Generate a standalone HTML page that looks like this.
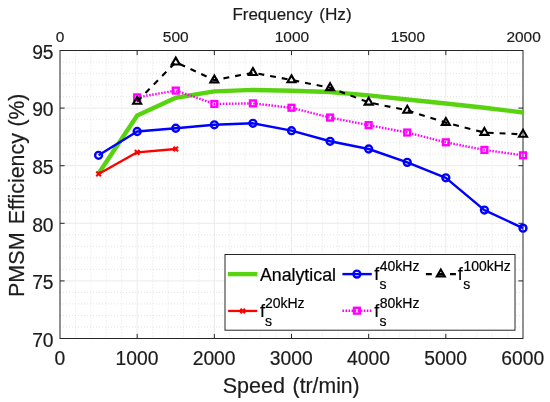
<!DOCTYPE html><html><head><meta charset="utf-8"><title>PMSM Efficiency</title>
<style>html,body{margin:0;padding:0;background:#fff}svg{display:block}text{font-family:"Liberation Sans",sans-serif;fill:#1c1c1c;stroke:#1c1c1c;stroke-width:0.2px}.lg text{fill:#000;stroke:#000}</style></head><body>
<svg width="550" height="402" viewBox="0 0 550 402">
<rect width="550" height="402" fill="#fff"/>
<g stroke="#d8d8d8" stroke-width="0.7" stroke-dasharray="1 2" fill="none">
<path d="M75.43 50.5 V338.5"/>
<path d="M90.87 50.5 V338.5"/>
<path d="M106.30 50.5 V338.5"/>
<path d="M121.73 50.5 V338.5"/>
<path d="M152.60 50.5 V338.5"/>
<path d="M168.03 50.5 V338.5"/>
<path d="M183.47 50.5 V338.5"/>
<path d="M198.90 50.5 V338.5"/>
<path d="M229.77 50.5 V338.5"/>
<path d="M245.20 50.5 V338.5"/>
<path d="M260.63 50.5 V338.5"/>
<path d="M276.07 50.5 V338.5"/>
<path d="M306.93 50.5 V338.5"/>
<path d="M322.37 50.5 V338.5"/>
<path d="M337.80 50.5 V338.5"/>
<path d="M353.23 50.5 V338.5"/>
<path d="M384.10 50.5 V338.5"/>
<path d="M399.53 50.5 V338.5"/>
<path d="M414.97 50.5 V338.5"/>
<path d="M430.40 50.5 V338.5"/>
<path d="M461.27 50.5 V338.5"/>
<path d="M476.70 50.5 V338.5"/>
<path d="M492.13 50.5 V338.5"/>
<path d="M507.57 50.5 V338.5"/>
<path d="M60.0 326.98 H523.0"/>
<path d="M60.0 315.46 H523.0"/>
<path d="M60.0 303.94 H523.0"/>
<path d="M60.0 292.42 H523.0"/>
<path d="M60.0 269.38 H523.0"/>
<path d="M60.0 257.86 H523.0"/>
<path d="M60.0 246.34 H523.0"/>
<path d="M60.0 234.82 H523.0"/>
<path d="M60.0 211.78 H523.0"/>
<path d="M60.0 200.26 H523.0"/>
<path d="M60.0 188.74 H523.0"/>
<path d="M60.0 177.22 H523.0"/>
<path d="M60.0 154.18 H523.0"/>
<path d="M60.0 142.66 H523.0"/>
<path d="M60.0 131.14 H523.0"/>
<path d="M60.0 119.62 H523.0"/>
<path d="M60.0 96.58 H523.0"/>
<path d="M60.0 85.06 H523.0"/>
<path d="M60.0 73.54 H523.0"/>
<path d="M60.0 62.02 H523.0"/>
</g>
<g stroke="#ebebeb" stroke-width="1" fill="none">
<path d="M137.17 50.5 V338.5"/>
<path d="M214.33 50.5 V338.5"/>
<path d="M291.50 50.5 V338.5"/>
<path d="M368.67 50.5 V338.5"/>
<path d="M445.83 50.5 V338.5"/>
<path d="M60.0 280.90 H523.0"/>
<path d="M60.0 223.30 H523.0"/>
<path d="M60.0 165.70 H523.0"/>
<path d="M60.0 108.10 H523.0"/>
</g>
<g stroke="#262626" stroke-width="1" fill="none">
<rect x="60.0" y="50.5" width="463.0" height="288.00"/>
<path d="M137.17 338.5 v-4.6 M137.17 50.5 v4.6"/>
<path d="M214.33 338.5 v-4.6 M214.33 50.5 v4.6"/>
<path d="M291.50 338.5 v-4.6 M291.50 50.5 v4.6"/>
<path d="M368.67 338.5 v-4.6 M368.67 50.5 v4.6"/>
<path d="M445.83 338.5 v-4.6 M445.83 50.5 v4.6"/>
<path d="M60.0 280.90 h4.6 M523.0 280.90 h-4.6"/>
<path d="M60.0 223.30 h4.6 M523.0 223.30 h-4.6"/>
<path d="M60.0 165.70 h4.6 M523.0 165.70 h-4.6"/>
<path d="M60.0 108.10 h4.6 M523.0 108.10 h-4.6"/>
</g>
<polyline points="98.58,173.42 137.17,115.47 175.75,97.73 214.33,91.40 252.92,89.90 291.50,90.82 330.08,91.97 368.67,95.43 407.25,99.46 445.83,103.49 484.42,107.75 523.00,112.48" fill="none" stroke="#58d30f" stroke-width="4.4" stroke-linejoin="round"/>
<g fill="none" stroke="#ff0000" stroke-width="2.3"><polyline points="98.58,173.88 137.17,152.34 175.75,149.00" stroke-linejoin="round"/>
<path stroke-width="2.1" d="M96.28 171.58 L100.88 176.18 M96.28 176.18 L100.88 171.58"/>
<path stroke-width="2.1" d="M134.87 150.04 L139.47 154.64 M134.87 154.64 L139.47 150.04"/>
<path stroke-width="2.1" d="M173.45 146.70 L178.05 151.30 M173.45 151.30 L178.05 146.70"/>
</g>
<g fill="none" stroke="#0000ff" stroke-width="2.4"><polyline points="98.58,155.33 137.17,131.49 175.75,128.26 214.33,124.80 252.92,123.31 291.50,130.68 330.08,141.28 368.67,149.00 407.25,162.36 445.83,177.80 484.42,210.05 523.00,228.14" stroke-linejoin="round"/>
<circle cx="98.58" cy="155.33" r="3.45"/>
<circle cx="137.17" cy="131.49" r="3.45"/>
<circle cx="175.75" cy="128.26" r="3.45"/>
<circle cx="214.33" cy="124.80" r="3.45"/>
<circle cx="252.92" cy="123.31" r="3.45"/>
<circle cx="291.50" cy="130.68" r="3.45"/>
<circle cx="330.08" cy="141.28" r="3.45"/>
<circle cx="368.67" cy="149.00" r="3.45"/>
<circle cx="407.25" cy="162.36" r="3.45"/>
<circle cx="445.83" cy="177.80" r="3.45"/>
<circle cx="484.42" cy="210.05" r="3.45"/>
<circle cx="523.00" cy="228.14" r="3.45"/>
</g>
<g fill="none" stroke="#ff00ff" stroke-width="2.4"><polyline points="137.17,97.39 175.75,90.59 214.33,103.95 252.92,103.38 291.50,107.75 330.08,117.55 368.67,125.15 407.25,132.52 445.83,142.31 484.42,149.92 523.00,155.33" stroke-dasharray="1.55 1.5"/>
<rect x="134.27" y="94.49" width="5.8" height="5.8"/>
<rect x="172.85" y="87.69" width="5.8" height="5.8"/>
<rect x="211.43" y="101.05" width="5.8" height="5.8"/>
<rect x="250.02" y="100.48" width="5.8" height="5.8"/>
<rect x="288.60" y="104.85" width="5.8" height="5.8"/>
<rect x="327.18" y="114.65" width="5.8" height="5.8"/>
<rect x="365.77" y="122.25" width="5.8" height="5.8"/>
<rect x="404.35" y="129.62" width="5.8" height="5.8"/>
<rect x="442.93" y="139.41" width="5.8" height="5.8"/>
<rect x="481.52" y="147.02" width="5.8" height="5.8"/>
<rect x="520.10" y="152.43" width="5.8" height="5.8"/>
</g>
<g fill="none" stroke="#000" stroke-width="2.1"><polyline points="137.17,101.42 175.75,62.25 214.33,80.11 252.92,72.73 291.50,79.99 330.08,87.82 368.67,102.34 407.25,110.40 445.83,122.62 484.42,132.52 523.00,134.37" stroke-dasharray="5.9 5.965"/>
<path d="M137.17 96.80 L141.17 103.73 L133.17 103.73 Z"/>
<path d="M175.75 57.63 L179.75 64.56 L171.75 64.56 Z"/>
<path d="M214.33 75.49 L218.33 82.42 L210.33 82.42 Z"/>
<path d="M252.92 68.11 L256.92 75.04 L248.92 75.04 Z"/>
<path d="M291.50 75.37 L295.50 82.30 L287.50 82.30 Z"/>
<path d="M330.08 83.21 L334.08 90.13 L326.08 90.13 Z"/>
<path d="M368.67 97.72 L372.67 104.65 L364.67 104.65 Z"/>
<path d="M407.25 105.79 L411.25 112.71 L403.25 112.71 Z"/>
<path d="M445.83 118.00 L449.83 124.92 L441.83 124.92 Z"/>
<path d="M484.42 127.90 L488.42 134.83 L480.42 134.83 Z"/>
<path d="M523.00 129.75 L527.00 136.68 L519.00 136.68 Z"/>
</g>
<g font-size="19.3" text-anchor="middle">
<text x="59.80" y="364.7">0</text>
<text x="136.97" y="364.7">1000</text>
<text x="214.13" y="364.7">2000</text>
<text x="291.30" y="364.7">3000</text>
<text x="368.47" y="364.7">4000</text>
<text x="445.63" y="364.7">5000</text>
<text x="522.80" y="364.7">6000</text>
</g>
<g font-size="19.3" text-anchor="end">
<text x="53.6" y="346.80">70</text>
<text x="53.6" y="289.20">75</text>
<text x="53.6" y="231.60">80</text>
<text x="53.6" y="174.00">85</text>
<text x="53.6" y="116.40">90</text>
<text x="53.6" y="58.80">95</text>
</g>
<g font-size="15.45" text-anchor="middle">
<text x="60.00" y="41.6">0</text>
<text x="175.75" y="41.6">500</text>
<text x="291.90" y="41.6">1000</text>
<text x="407.85" y="41.6">1500</text>
<text x="523.60" y="41.6">2000</text>
</g>
<text x="222.70" y="392.6" font-size="21.55">Speed</text>
<text x="292.60" y="392.6" font-size="21.20">(tr/min)</text>
<text x="232.40" y="19.7" font-size="16.95">Frequency</text>
<text x="319.20" y="19.7" font-size="17.20">(Hz)</text>
<text transform="translate(23.7 297.00) rotate(-90)" font-size="21.55">PMSM</text>
<text transform="translate(23.7 224.30) rotate(-90)" font-size="21.40">Efficiency</text>
<text transform="translate(23.7 126.60) rotate(-90)" font-size="21.20">(%)</text>
<g class="lg">
<rect x="225.0" y="254.5" width="290.0" height="75.7" fill="#fff" stroke="#262626" stroke-width="1"/>
<path d="M227.9 274.1 H257.4" stroke="#58d30f" stroke-width="4.4" fill="none"/>
<text x="259.9" y="281.2" font-size="17.8">Analytical</text>
<g fill="none" stroke="#ff0000" stroke-width="2.3"><path d="M228.1 310.95 H257.2"/><path stroke-width="2.1" d="M240.40 308.65 L245.00 313.25 M240.40 313.25 L245.00 308.65"/></g>
<text x="260.10" y="316.90" font-size="17.8">f</text><text x="264.90" y="307.70" font-size="14">20kHz</text><text x="265.10" y="325.90" font-size="14">s</text>
<g fill="none" stroke="#0000ff" stroke-width="2.4"><path d="M342.4 274.1 H371.8"/><circle cx="356.90" cy="274.10" r="3.45"/></g>
<text x="374.20" y="280.00" font-size="17.8">f</text><text x="379.80" y="270.80" font-size="14">40kHz</text><text x="379.60" y="289.00" font-size="14">s</text>
<g fill="none" stroke="#ff00ff" stroke-width="2.4"><path d="M342.4 310.7 H371.8" stroke-dasharray="1.55 1.5"/><rect x="354.00" y="307.80" width="5.8" height="5.8"/></g>
<text x="374.20" y="316.90" font-size="17.8">f</text><text x="379.80" y="307.70" font-size="14">80kHz</text><text x="379.60" y="325.90" font-size="14">s</text>
<g fill="none" stroke="#000" stroke-width="2.1"><path d="M425.9 274.1 H455.9" stroke-dasharray="5.9 6.15"/><path d="M440.80 269.48 L444.80 276.41 L436.80 276.41 Z"/></g>
<text x="457.80" y="280.00" font-size="17.8">f</text><text x="463.40" y="270.80" font-size="14">100kHz</text><text x="463.20" y="289.00" font-size="14">s</text>
</g>
</svg></body></html>
